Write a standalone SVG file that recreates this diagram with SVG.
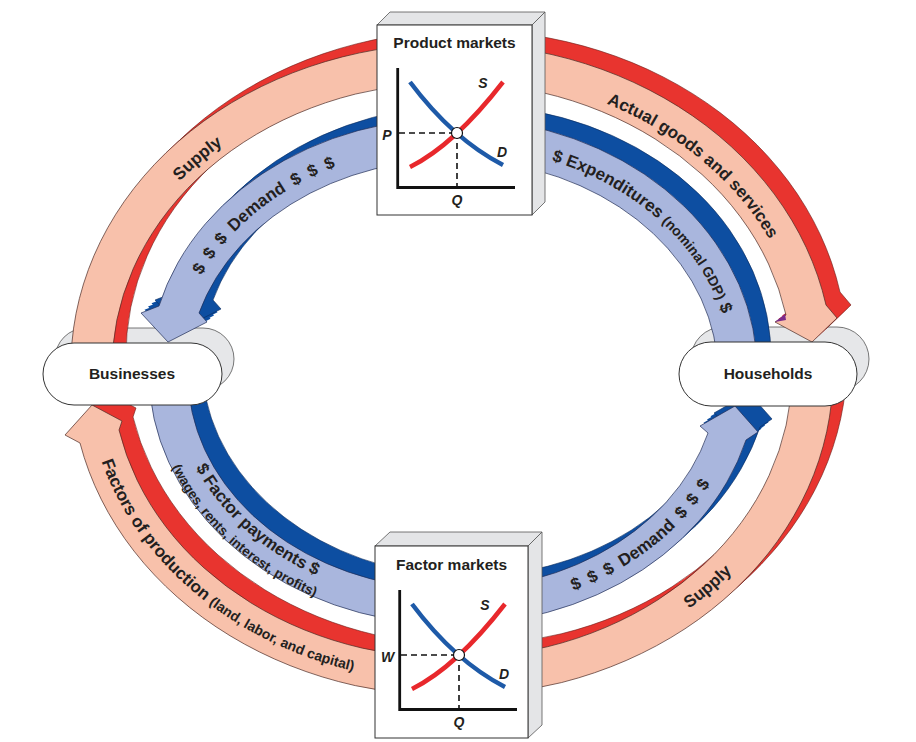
<svg xmlns="http://www.w3.org/2000/svg" width="916" height="742" viewBox="0 0 916 742">
<style>
.face-r{fill:#F8C1AB;stroke:#4a2a24;stroke-width:0.7}
.side-r{fill:#E8342F}
.side-r-e{fill:#E8342F;stroke:#6a1e1a;stroke-width:0.6}
.face-b{fill:#A9B6DD;stroke:#1e2b55;stroke-width:0.7}
.side-b{fill:#0D4EA1}
.side-b-e{fill:#0D4EA1;stroke:#0a2a5a;stroke-width:0.6}
.lbl{font-family:"Liberation Sans",Arial,Helvetica,sans-serif;font-weight:bold;font-size:17px;fill:#231f20}
.sm{font-size:14px}
.sm2{font-size:13.5px}
.title{font-family:"Liberation Sans",Arial,Helvetica,sans-serif;font-weight:bold;font-size:15.5px;fill:#231f20;text-anchor:middle}
.ax{fill:none;stroke:#111;stroke-width:2.8}
.dash{fill:none;stroke:#111;stroke-width:1.6;stroke-dasharray:6 4}
.dcurve{fill:none;stroke:#1E5AA8;stroke-width:4.5}
.scurve{fill:none;stroke:#E8282C;stroke-width:4.5}
.axl{font-family:"Liberation Sans",Arial,Helvetica,sans-serif;font-weight:bold;font-style:italic;font-size:14px;fill:#231f20;text-anchor:middle}
.pill-f{fill:#fff;stroke:#333;stroke-width:1}
.pill-b{fill:#E6E7E9;stroke:#555;stroke-width:0.8}
.box-f{fill:#fff;stroke:#333;stroke-width:1}
.box-s{fill:#E4E5E7;stroke:#555;stroke-width:0.8}
</style>
<defs>
<path id="fA" d="M71,373 A381,323 0 0 1 826,305 L837,318 L812,342 L775,322 L786,315 A340,286 0 0 0 112,373 Z"/>
<path id="fB" d="M833,373 A381,323 0 0 1 80,443 L65,435 L92,405 L122,421 L119,430 A340,286 0 0 0 792,373 Z"/>
<path id="fC" d="M757,374 A304,252 0 0 0 159,306 L141,313 L168,342 L207,322 L199,313 A265,215 0 0 1 718,374 Z"/>
<path id="fD" d="M149,374 A304,252 0 0 0 746,440 L758,432 L735,406 L700,426 L708,433 A265,215 0 0 1 188,374 Z"/>
<path id="t1" d="M116.5,275.6 A354.8,299.3 0 0 1 324.9,93.6"/>
<path id="t2" d="M573.3,91.8 A354.8,299.3 0 0 1 785.4,270.6"/>
<path id="t3" d="M539.2,156.9 A279,228.3 0 0 1 725.9,326.5"/>
<path id="t4" d="M190.8,295.9 A279,228.3 0 0 1 357.6,159.5"/>
<path id="t5" d="M183.8,441.4 A281.5,230.5 0 0 0 343,586.2"/>
<path id="t5b" d="M163.7,447.2 A302.5,250.5 0 0 0 334.8,604.6"/>
<path id="t6" d="M91.8,426.7 A365.8,309.3 0 0 0 388.5,677.6"/>
<path id="t7" d="M583.1,661.8 A365.8,309.3 0 0 0 797.9,473.7"/>
<path id="t8" d="M547.3,599.3 A289.6,238.3 0 0 0 723.4,459.4"/>
<g id="chart">
<path class="ax" d="M397.7,68 V187.5 H515"/>
<path class="dash" d="M399,133 H457 M457,133 V186"/>
<path class="scurve" d="M410,167 C440,152 472,122 503,82"/>
<path class="dcurve" d="M410,82 C440,122 470,148 503,165"/>
<circle cx="457" cy="133" r="5.5" fill="#fff" stroke="#111" stroke-width="1.2"/>
<text class="axl" x="457" y="205">Q</text>
<text class="axl" x="483" y="88">S</text>
<text class="axl" x="502" y="157">D</text>
</g>
</defs>

<g id="businesses-depth"><rect class="pill-b" x="55" y="328" width="179" height="62" rx="31"/></g>
<g id="households-depth"><rect class="pill-b" x="691" y="327" width="178" height="64" rx="32"/></g>

<g id="connectors">
<g id="flow-supply-goods">
<use href="#fA" class="side-r" transform="translate(3.5,-3.25)"/>
<use href="#fA" class="side-r" transform="translate(7,-6.5)"/>
<use href="#fA" class="side-r" transform="translate(10.5,-9.75)"/>
<use href="#fA" class="side-r-e" transform="translate(14,-13)"/>
<use href="#fA" class="face-r"/>
<polygon points="775,322 785,314 786,320" fill="#7B2A8C"/>
<text class="lbl"><textPath href="#t1" startOffset="50%" text-anchor="middle">Supply</textPath></text>
<text class="lbl"><textPath href="#t2" startOffset="50%" text-anchor="middle">Actual goods and services</textPath></text>
</g>
<g id="flow-supply-factors">
<use href="#fB" class="side-r" transform="translate(3.5,-3.25)"/>
<use href="#fB" class="side-r" transform="translate(7,-6.5)"/>
<use href="#fB" class="side-r" transform="translate(10.5,-9.75)"/>
<use href="#fB" class="side-r-e" transform="translate(14,-13)"/>
<use href="#fB" class="face-r"/>
<text class="lbl"><textPath href="#t7" startOffset="50%" text-anchor="middle">Supply</textPath></text>
<text class="lbl"><textPath href="#t6" startOffset="50%" text-anchor="middle">Factors of production <tspan class="sm">(land, labor, and capital)</tspan></textPath></text>
</g>
<g id="flow-expenditures">
<use href="#fC" class="side-b" transform="translate(3.5,-3.25)"/>
<use href="#fC" class="side-b" transform="translate(7,-6.5)"/>
<use href="#fC" class="side-b" transform="translate(10.5,-9.75)"/>
<use href="#fC" class="side-b-e" transform="translate(14,-13)"/>
<use href="#fC" class="face-b"/>
<text class="lbl"><textPath href="#t3" startOffset="50%" text-anchor="middle">$ Expenditures <tspan class="sm">(nominal GDP)</tspan> $</textPath></text>
<text class="lbl" word-spacing="4"><textPath href="#t4" startOffset="50%" text-anchor="middle">$ $ $ Demand $ $ $</textPath></text>
</g>
<g id="flow-factor-payments">
<use href="#fD" class="side-b" transform="translate(3.5,-3.25)"/>
<use href="#fD" class="side-b" transform="translate(7,-6.5)"/>
<use href="#fD" class="side-b" transform="translate(10.5,-9.75)"/>
<use href="#fD" class="side-b-e" transform="translate(14,-13)"/>
<use href="#fD" class="face-b"/>
<text class="lbl"><textPath href="#t5" startOffset="50%" text-anchor="middle">$ Factor payments $</textPath></text>
<text class="lbl sm2"><textPath href="#t5b" startOffset="50%" text-anchor="middle">(wages, rents, interest, profits)</textPath></text>
<text class="lbl" word-spacing="4"><textPath href="#t8" startOffset="50%" text-anchor="middle">$ $ $ Demand $ $ $</textPath></text>
</g>
</g>

<g id="product-markets">
<polygon class="box-s" points="377,25 390,12 545,12 532,25"/>
<polygon class="box-s" points="532,25 545,12 545,202 532,215"/>
<rect class="box-f" x="377" y="25" width="155" height="190"/>
<text class="title" x="454.5" y="48">Product markets</text>
<use href="#chart"/>
<text class="axl" x="387" y="140">P</text>
</g>

<g id="factor-markets">
<polygon class="box-s" points="375,546 390,532 542,532 528,546"/>
<polygon class="box-s" points="528,546 542,532 542,725 528,738"/>
<rect class="box-f" x="375" y="546" width="153" height="192"/>
<text class="title" x="451.5" y="570">Factor markets</text>
<use href="#chart" transform="translate(2,522)"/>
<text class="axl" x="387.5" y="662">W</text>
</g>

<g id="businesses">
<rect class="pill-f" x="43" y="343" width="179" height="62" rx="31"/>
<text class="title" x="132" y="379">Businesses</text>
</g>
<g id="households">
<rect class="pill-f" x="679" y="342" width="178" height="64" rx="32"/>
<text class="title" x="768" y="379">Households</text>
</g>
</svg>
